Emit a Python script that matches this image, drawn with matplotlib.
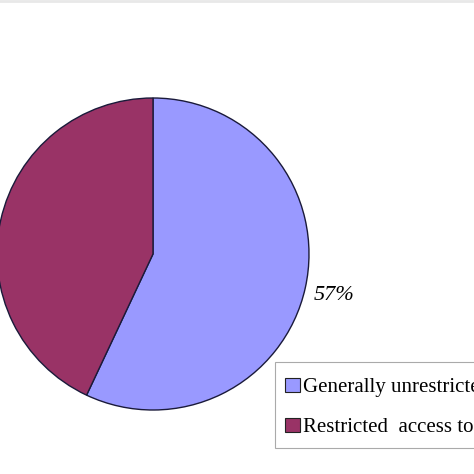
import matplotlib
matplotlib.use("Agg")
import matplotlib.pyplot as plt
from matplotlib.patches import Patch, Rectangle

labels = ["Generally unrestricted access to data", "Restricted  access to data"]
values = [57, 43]
colors = ["#9999FF", "#993366"]

W = H = 474
fig = plt.figure(figsize=(4.74, 4.74), dpi=100)
ax = fig.add_axes([0, 0, 1, 1])

cx, cy, r = 153, H - 254, 156
wedges, _ = ax.pie(values, colors=colors, startangle=90, counterclock=False,
                   center=(cx, cy), radius=r, frame=True,
                   wedgeprops=dict(edgecolor="#1a1a3a", linewidth=1.0))
ax.set_xlim(0, W)
ax.set_ylim(0, H)
ax.set_aspect("equal")
ax.axis("off")

ax.text(334, H - 295, f"{values[0]}%", fontsize=16, family="Liberation Serif",
        style="italic", ha="center", va="center")

# thin gray band at top
ax.axhline(H - 1, xmin=0, xmax=472 / W, color="#e8e8e8", linewidth=2)

# legend frame
ax.add_patch(Rectangle((275, H - 448), 240, 86, facecolor="white",
                       edgecolor="#aaaaaa", linewidth=0.8, zorder=4, clip_on=False))

handles = [Patch(facecolor=c, edgecolor="#222222", linewidth=0.8) for c in colors]
leg = ax.legend(handles, labels, loc="upper left",
                bbox_to_anchor=(285 / W, (H - 378) / H), bbox_transform=fig.transFigure,
                borderaxespad=0, prop={"family": "Liberation Serif", "size": 15},
                handlelength=0.72, handleheight=0.62, handletextpad=0.15,
                labelspacing=1.02, borderpad=0, frameon=False)
leg.set_zorder(5)

fig.savefig("out.png", dpi=100)
